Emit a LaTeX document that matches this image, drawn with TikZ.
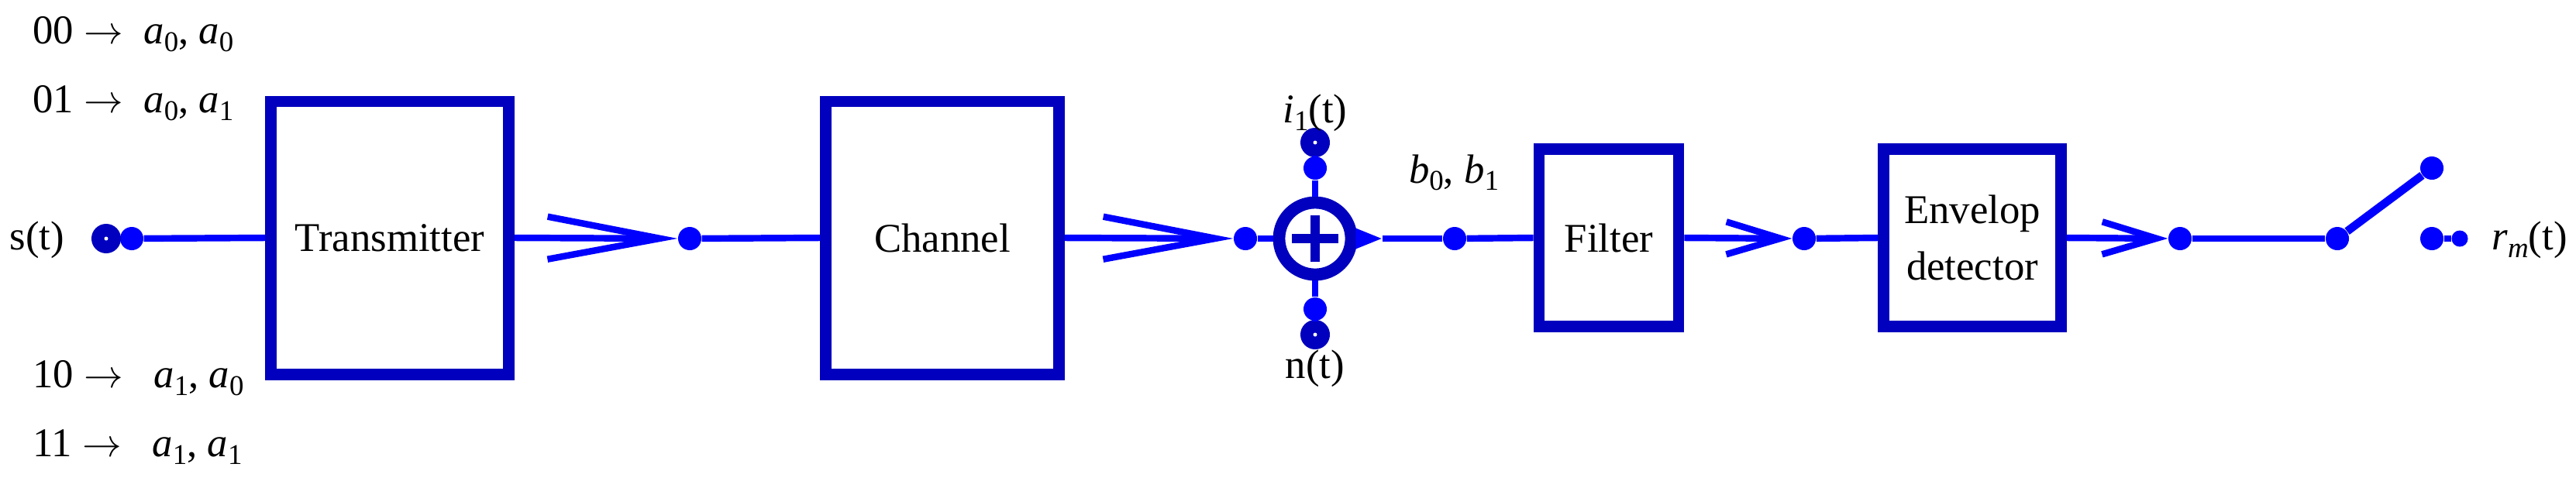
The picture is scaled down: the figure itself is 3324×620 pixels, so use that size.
\documentclass[tikz,border=0pt]{standalone}
\usepackage{fontspec}
\setmainfont{Liberation Serif}
\usetikzlibrary{arrows.meta}
\definecolor{dk}{RGB}{0,0,190}
\definecolor{bl}{RGB}{0,0,255}
\newcommand\mysub[1]{\raisebox{-0.4ex}{\fontsize{10.5}{12}\selectfont #1}}
\newcommand\vv[2]{\textit{#1}\mysub{#2}}
\tikzset{
  blk/.style={draw=dk,line width=4.2pt,minimum width=#1,inner sep=0pt,font=\fontsize{15}{21}\selectfont,align=center},
  wire/.style={draw=bl,line width=2.4pt},
  dotn/.style={circle,fill=bl,inner sep=0pt,minimum size=0.3cm},
  term/.style={circle,fill=dk,inner sep=0pt,minimum size=0.38cm},
  lbl/.style={font=\fontsize{15}{18}\selectfont},
  openarr/.style={wire,-{Straight Barb[length=1.45cm,width=0.55cm,line width=2.4pt]}},
  shortarr/.style={wire,-{Straight Barb[length=0.7cm,width=0.42cm,line width=2.4pt]}},
}
\begin{document}
\begin{tikzpicture}[x=0.01cm,y=-0.01cm]
\useasboundingbox (0,0) rectangle (3324,620);
\node[lbl,anchor=west] at (30,44) {00 $\rightarrow$ \ \vv{a}{0}, \vv{a}{0}};
\node[lbl,anchor=west] at (30,133) {01 $\rightarrow$ \ \vv{a}{0}, \vv{a}{1}};
\node[lbl,anchor=west] at (30,488) {10 $\rightarrow$ \ \ \vv{a}{1}, \vv{a}{0}};
\node[lbl,anchor=west] at (30,577) {11 $\rightarrow$ \ \ \vv{a}{1}, \vv{a}{1}};
\node[lbl] (st) at (48,310) {s(t)};
\node[blk=3.07cm,minimum height=3.52cm] (tx) at (503,307) {Transmitter};
\node[blk=3.01cm,minimum height=3.52cm] (ch) at (1216,307) {Channel};
\node[blk=1.8cm,minimum height=2.29cm] (fi) at (2076,307) {Filter};
\node[blk=2.29cm,minimum height=2.29cm] (en) at (2545,307) {Envelop\\detector};
\node[dotn] (d0) at (170,308) {};
\node[dotn] (d1) at (890,308) {};
\node[dotn] (d2) at (1607,308) {};
\node[circle,draw=dk,line width=4.5pt,fill=white,minimum size=0.93cm,inner sep=0pt] (ad) at (1697,308) {};
\draw[dk,line width=3.6pt] (1667,308) -- (1727,308) (1697,278) -- (1697,338);
\node[dotn] (d3) at (1877,308) {};
\node[dotn] (d4) at (2328,308) {};
\node[dotn] (d5) at (2813,308) {};
\node[dotn] (sw) at (3016,308) {};
\node[dotn] (swe) at (3138,217) {};
\node[dotn] (o1) at (3138,308) {};
\node[dotn,minimum size=0.21cm] (o2) at (3174,308) {};
\node[dotn] (dt) at (1697,217) {};
\node[dotn] (db) at (1697,399) {};
\draw[wire] (d0) -- (tx.west);
\node[term] (t0) at (137,308) {};
\fill[white] (t0) circle (0.025cm);
\draw[openarr] (tx.east) -- (d1);
\draw[wire] (d1) -- (ch.west);
\draw[openarr] (ch.east) -- (d2);
\draw[wire] (d2) -- (ad);
\draw[wire,-{Triangle[length=0.35cm,width=0.24cm]}] (ad.east) -- ++(33,0) coordinate (ae);
\draw[wire] (ae) -- (d3);
\draw[wire] (d3) -- (fi.west);
\draw[shortarr] (fi.east) -- (d4);
\draw[wire] (d4) -- (en.west);
\draw[shortarr] (en.east) -- (d5);
\draw[wire] (d5) -- (sw);
\draw[wire,line width=3pt] (sw) -- (swe);
\draw[wire] (o1) -- (o2);
\draw[wire] (ad.north) -- (dt);
\draw[wire] (ad.south) -- (db);
\node[term] (tt) at (1697,184) {};
\fill[white] (tt) circle (0.025cm);
\draw[wire] (tt) -- (dt);
\node[term] (tb) at (1697,432) {};
\fill[white] (tb) circle (0.025cm);
\draw[wire] (tb) -- (db);
\node[lbl] (li) at (1697,146) {\vv{i}{1}(t)};
\node[lbl] (ln) at (1697,476) {n(t)};
\node[lbl] (lb) at (1876,223) {\vv{b}{0}, \vv{b}{1}};
\node[lbl,anchor=west] (lr) at (3203,310) {\textit{r}\mysub{\textit{m}}(t)};
\end{tikzpicture}
\end{document}
